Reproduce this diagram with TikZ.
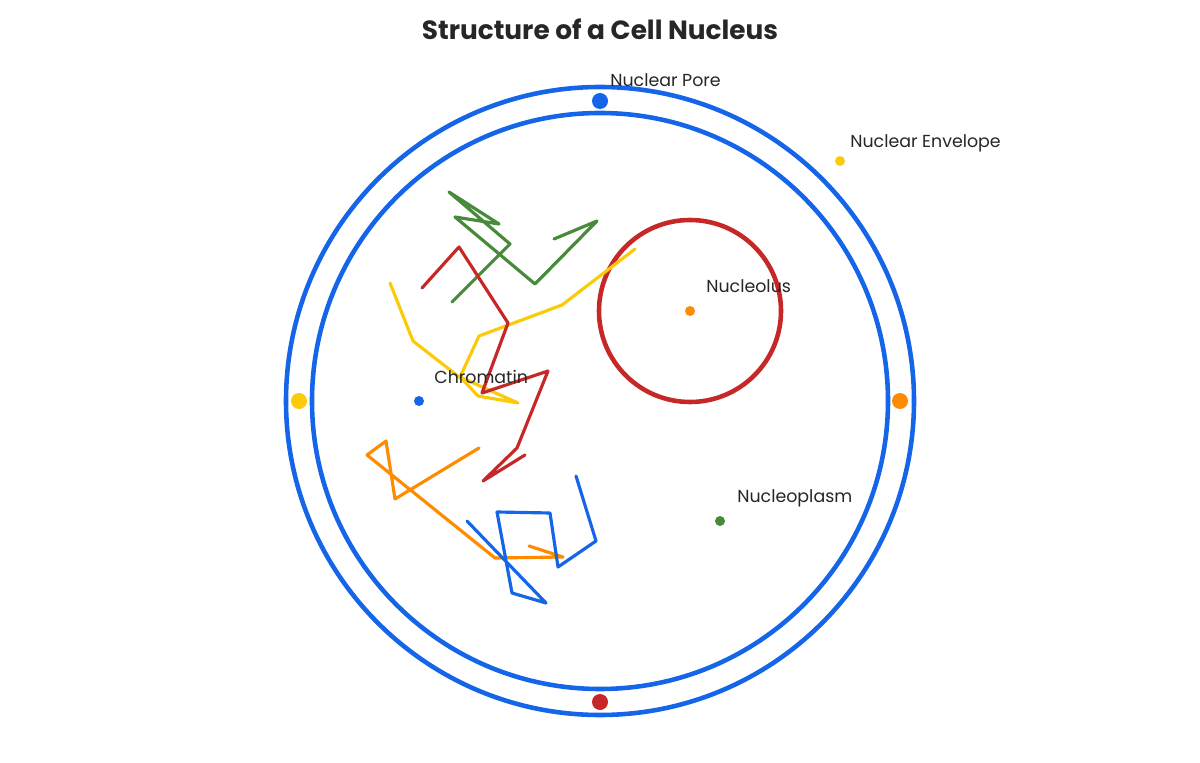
\documentclass[tikz,border=0pt]{standalone}
\usepackage{fontspec}
\setmainfont{Poppins}
\definecolor{cblue}{HTML}{1565E8}
\definecolor{cred}{HTML}{C62828}
\definecolor{cgreen}{HTML}{468A3A}
\definecolor{cyellow}{HTML}{FBCB0A}
\definecolor{corange}{HTML}{FF8C00}
\definecolor{ctext}{HTML}{262626}
\tikzset{
  pore/.style={circle, inner sep=0pt, minimum size=16*0.02cm},
  marker/.style={circle, inner sep=0pt, minimum size=10*0.02cm},
  lbl/.style={anchor=base west, inner sep=0pt, text=ctext, font=\fontsize{9.9}{12}\selectfont},
  strand/.style={line width=1.8pt, line join=round, line cap=round}
}
\begin{document}
\begin{tikzpicture}[x=0.02cm, y=-0.02cm]
    \useasboundingbox (0,0) rectangle (1200,763);
    % Title
    \node[font=\fontsize{15}{18}\selectfont\bfseries, text=ctext] (title) at (600,29) {Structure of a Cell Nucleus};

    % Envelope and nucleolus
    \draw[cblue, line width=2.6pt] (600,401) circle (314);
    \draw[cblue, line width=2.6pt] (600,401) circle (288);
    \draw[cred, line width=2.6pt] (690,311) circle (91);

    % Chromatin strands
    \draw[strand, cgreen] (452,302) -- (510,244) -- (449,192) -- (499,224) -- (455,217) -- (535,284) -- (597,221) -- (554,239);
    \draw[strand, cyellow] (390,283) -- (413,341) -- (463,380) -- (478,396) -- (518,403) -- (460,377) -- (479,336) -- (562,305) -- (635,249);
    \draw[strand, cred] (422,288) -- (459,247) -- (508,323) -- (482,393) -- (548,371) -- (517,448) -- (483,481) -- (525,455);
    \draw[strand, corange] (479,448) -- (395,499) -- (386,441) -- (367,455) -- (495,558) -- (563,557) -- (529,546);
    \draw[strand, cblue] (576,476) -- (596,541) -- (558,567) -- (550,513) -- (497,512) -- (512,593) -- (546,603) -- (467,521);

    % Pores
    \node[pore, fill=cblue] (poreN) at (600,101) {};
    \node[pore, fill=cred] (poreS) at (600,702) {};
    \node[pore, fill=cyellow] (poreW) at (299,401) {};
    \node[pore, fill=corange] (poreE) at (900,401) {};

    % Markers and labels
    \node[marker, fill=cyellow] (envelope) at (840,161) {};
    \node[marker, fill=corange] (nucleolus) at (690,311) {};
    \node[marker, fill=cblue] (chromatin) at (419,401) {};
    \node[marker, fill=cgreen] (nucleoplasm) at (720,521) {};

    \node[lbl] (poreLbl) at (610,87) {Nuclear Pore};
    \node[lbl] (envLbl) at (850,148) {Nuclear Envelope};
    \node[lbl] (nucLbl) at (706,293) {Nucleolus};
    \node[lbl] (chrLbl) at (434,383) {Chromatin};
    \node[lbl] (plasmLbl) at (737,502) {Nucleoplasm};
\end{tikzpicture}
\end{document}
